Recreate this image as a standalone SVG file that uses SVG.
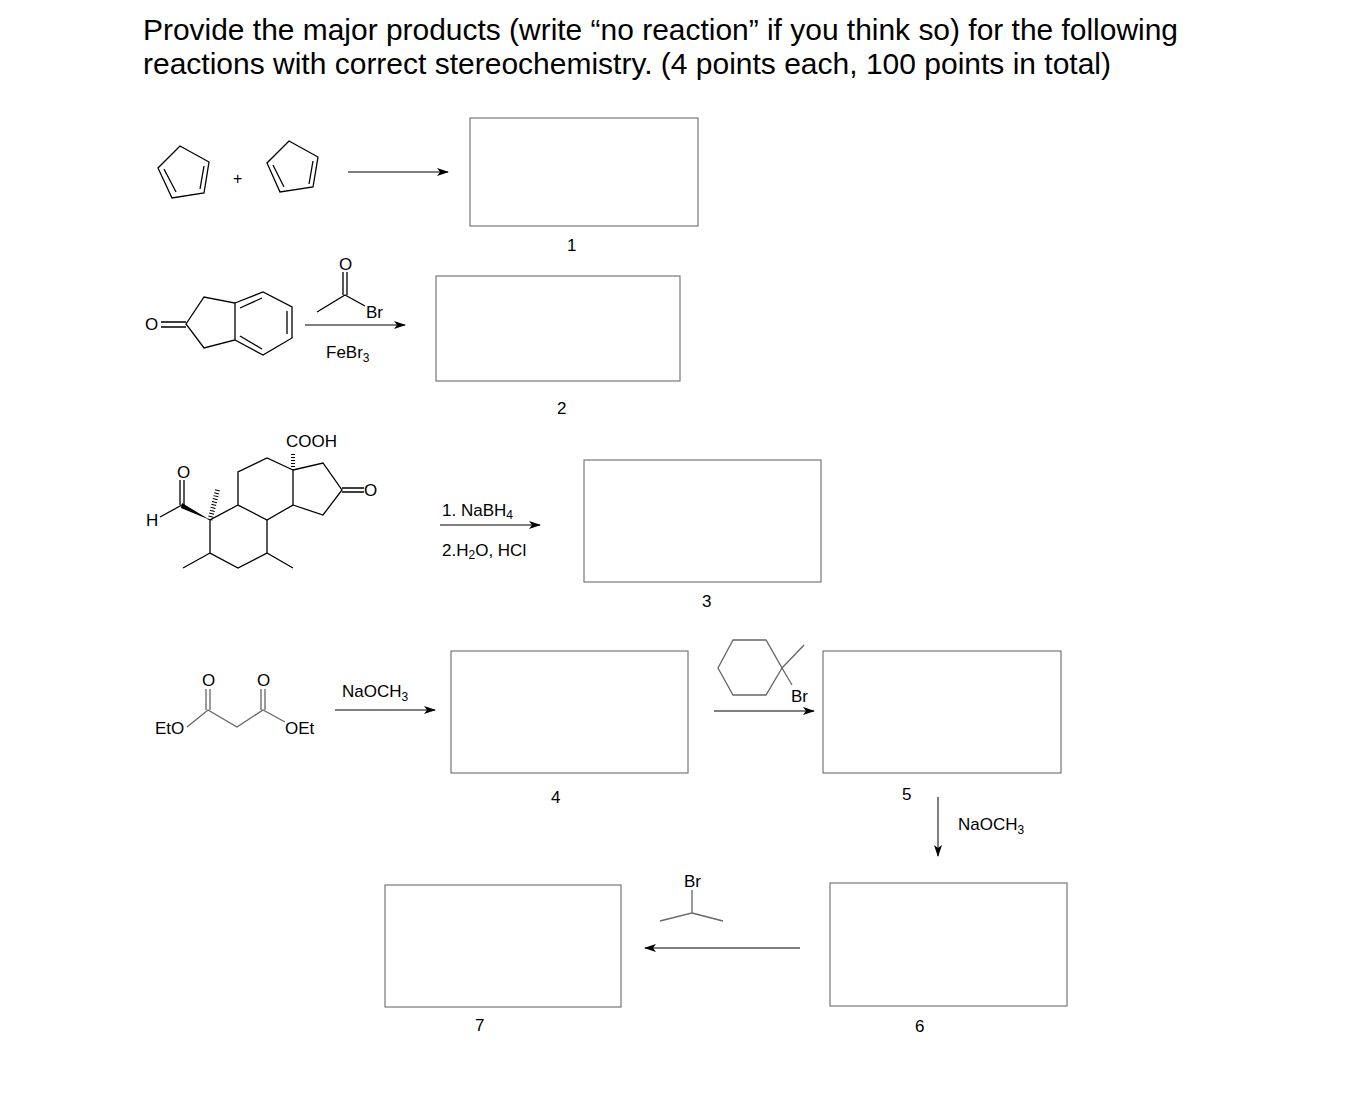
<svg xmlns="http://www.w3.org/2000/svg" width="1361" height="1112" viewBox="0 0 1361 1112">
<style>
.t{font-family:"Liberation Sans",Arial,sans-serif;fill:#000}
.title{font-size:29.5px}
.s{font-size:17px}
.b{fill:none;stroke:#000;stroke-width:1.3}
.g{fill:none;stroke:#666;stroke-width:1.3}
.box{fill:#fff;stroke:#777;stroke-width:1.2}
</style>
<defs>
<marker id="ah" markerWidth="12" markerHeight="8" refX="11" refY="4" orient="auto" markerUnits="userSpaceOnUse"><path d="M0,0 L12,4 L0,8 L3,4 Z" fill="#000"/></marker>
</defs>
<rect width="1361" height="1112" fill="#fff"/>
<text class="t title" x="143" y="40" textLength="1035" lengthAdjust="spacingAndGlyphs">Provide the major products (write “no reaction” if you think so) for the following</text>
<text class="t title" x="143" y="74" textLength="968" lengthAdjust="spacingAndGlyphs">reactions with correct stereochemistry. (4 points each, 100 points in total)</text>

<g id="boxes">
<rect id="box1" class="box" x="470" y="118" width="228" height="108"/>
<rect id="box2" class="box" x="436" y="276" width="244" height="105"/>
<rect id="box3" class="box" x="584" y="460" width="237" height="122"/>
<rect id="box4" class="box" x="451" y="651" width="237" height="122"/>
<rect id="box5" class="box" x="823" y="651" width="238" height="122"/>
<rect id="box6" class="box" x="830" y="883" width="237" height="123"/>
<rect id="box7" class="box" x="385" y="885" width="236" height="122"/>
</g>
<g id="numbers" class="t s">
<text x="567" y="251">1</text><text x="557" y="414">2</text><text x="702" y="607">3</text>
<text x="551" y="803">4</text><text x="902" y="800">5</text><text x="915" y="1032">6</text><text x="475" y="1031">7</text>
</g>

<g id="cp1" class="b">
<path d="M180,146 L209,162 L204,193 L172,198 L158,168 Z"/>
<path d="M204,166 L200,189"/><path d="M164,169 L176,192"/>
</g>
<text class="t" x="233" y="184" font-size="16">+</text>
<g id="cp2" class="b">
<path d="M289,141 L318,157 L313,187 L280,192 L267,163 Z"/>
<path d="M313,161 L309,184"/><path d="M273,165 L284,187"/>
</g>

<g id="indanone" class="b">
<path d="M186,324 L204,297 L235,303 L235,340 L204,348 Z"/>
<path d="M235,303 L263,292 L292,307 L292,338 L263,355 L235,340"/>
<path d="M240,308 L262,298"/><path d="M287,311 L287,334"/><path d="M240,336 L262,349"/>
<path d="M161,322 L186,322 M161,327 L186,327"/>
</g>
<text class="t" x="145" y="330" font-size="17" font-family="Liberation Serif">O</text>
<g id="acetylbromide">
<path class="b" d="M317,312 L345,295 L365,306 M343,295 L343,272 M347,295 L347,272"/>
<text class="t s" x="339" y="270">O</text>
<text class="t s" x="366" y="318">Br</text>
<text class="t s" x="326" y="358">FeBr<tspan font-size="12" dy="4">3</tspan></text>
</g>

<g id="steroid">
<path class="b" d="M293,470 L267,458 L238,472 L238,505 L267,520 L293,505 Z"/>
<path class="b" d="M293,470 L323,463 L342,490 L323,515 L293,505"/>
<path class="b" d="M342,488 L364,488 M342,492 L364,492"/>
<path class="b" d="M238,505 L210,520 L210,553 L238,568 L267,553 L267,520"/>
<path class="b" d="M210,553 L183,568 M267,553 L293,568"/>
<path class="b" d="M182,505 L160,517 M180,505 L180,480 M184,505 L184,480"/>
<path d="M210,520 L182,503 L181,508 Z" fill="#000"/>
<path d="M210,520 L218,488" stroke="#000" stroke-width="5" stroke-dasharray="1,2" fill="none"/>
<path d="M293,470 L293,452" stroke="#000" stroke-width="4" stroke-dasharray="1,2" fill="none"/>
<text class="t s" x="286" y="447">COOH</text>
<text class="t s" x="364" y="496">O</text>
<text class="t s" x="177" y="478">O</text>
<text class="t s" x="146" y="526">H</text>
</g>
<text class="t s" x="442" y="516">1. NaBH<tspan font-size="12" dy="3">4</tspan></text>
<text class="t s" x="442" y="556">2.H<tspan font-size="12" dy="3">2</tspan><tspan dy="-3">O, HCl</tspan></text>

<g id="malonate">
<path class="g" d="M187,727 L208,710 L237,727 L263,710 L285,722"/>
<path class="g" d="M206,710 L206,689 M210,710 L210,689 M261,710 L261,689 M265,710 L265,689"/>
<text class="t s" x="202" y="686">O</text>
<text class="t s" x="257" y="686">O</text>
<text class="t s" x="155" y="734">EtO</text>
<text class="t s" x="285" y="734">OEt</text>
</g>
<text class="t s" x="342" y="697">NaOCH<tspan font-size="12" dy="4">3</tspan></text>

<g id="cyclohexylbromide">
<path class="g" d="M733,640 L766,640 L782,668 L766,695 L733,695 L718,668 Z"/>
<path class="g" d="M782,668 L804,645 M782,668 L792,685"/>
<text class="t s" x="791" y="702">Br</text>
</g>
<g id="isopropylbromide">
<path class="g" d="M692,890 L692,913 L660,921 M692,913 L723,921"/>
<text class="t s" x="684" y="887">Br</text>
</g>
<text class="t s" x="958" y="830">NaOCH<tspan font-size="12" dy="4">3</tspan></text>

<g id="connectors" stroke="#000" stroke-width="1" fill="none">
<path d="M348,172 L448,172" marker-end="url(#ah)"/>
<path d="M305,325 L405,325" marker-end="url(#ah)"/>
<path d="M440,525 L540,525" marker-end="url(#ah)"/>
<path d="M335,710 L435,710" marker-end="url(#ah)"/>
<path d="M714,711 L814,711" marker-end="url(#ah)"/>
<path d="M938,797 L938,856" marker-end="url(#ah)"/>
<path d="M800,948 L645,948" marker-end="url(#ah)"/>
</g>
</svg>
